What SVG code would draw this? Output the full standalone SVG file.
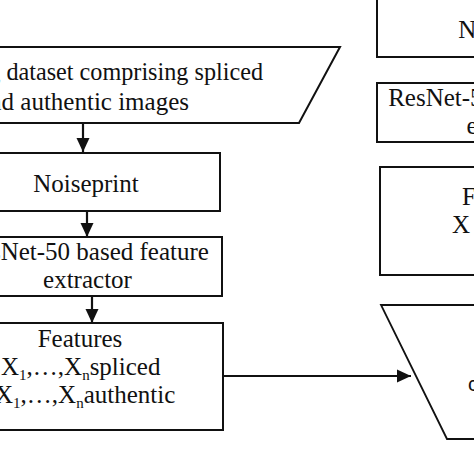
<svg xmlns="http://www.w3.org/2000/svg" width="474" height="474" viewBox="0 0 474 474">
<style>
.box{fill:#fff;stroke:#111;stroke-width:2}
.t{font-family:"Liberation Serif","Times New Roman",serif;font-size:25px;fill:#111}
.m{text-anchor:middle}
.sub{font-size:15px}
.con{stroke:#111;stroke-width:2.2;fill:none}
</style>
<defs>
<marker id="ah" markerUnits="userSpaceOnUse" markerWidth="14" markerHeight="14" refX="14" refY="7" orient="auto">
<path d="M0,0.5 L14,7 L0,13.5 Z" fill="#111"/>
</marker>
</defs>
<rect width="474" height="474" fill="#fff"/>
<g id="connectors">
<line class="con" x1="83" y1="123" x2="83" y2="152" marker-end="url(#ah)"/>
<line class="con" x1="87" y1="211" x2="87" y2="237" marker-end="url(#ah)"/>
<line class="con" x1="92" y1="296" x2="92" y2="323" marker-end="url(#ah)"/>
<line class="con" x1="223" y1="376" x2="411" y2="376" marker-end="url(#ah)"/>
</g>
<g id="dataset">
<polygon class="box" points="-100,47 340,47 299,123 -141,123"/>
<text class="t" x="263" y="80" text-anchor="end" style="font-size:24.2px">Training dataset comprising spliced</text>
<text class="t" x="189" y="110" text-anchor="end">and authentic images</text>
</g>
<g id="noiseprint">
<rect class="box" x="-48" y="153" width="268" height="58"/>
<text class="t m" x="86" y="192">Noiseprint</text>
</g>
<g id="extractor">
<rect class="box" x="-48" y="237" width="270" height="59"/>
<text class="t m" x="86" y="260">ResNet-50 based feature</text>
<text class="t m" x="87.5" y="288">extractor</text>
</g>
<g id="features">
<rect class="box" x="-48" y="323" width="271" height="107"/>
<text class="t m" x="80" y="347">Features</text>
<text class="t" x="1" y="375">X<tspan class="sub" dy="5">1</tspan><tspan dy="-5">,…,X</tspan><tspan class="sub" dy="5">n</tspan><tspan dy="-5">spliced</tspan></text>
<text class="t" x="-5" y="403">X<tspan class="sub" dy="5">1</tspan><tspan dy="-5">,…,X</tspan><tspan class="sub" dy="5">n</tspan><tspan dy="-5">authentic</tspan></text>
</g>
<g id="test-noiseprint">
<rect class="box" x="377" y="-1" width="300" height="58"/>
<text class="t m" x="511" y="38">Noiseprint</text>
</g>
<g id="test-extractor">
<rect class="box" x="377" y="83" width="300" height="59"/>
<text class="t m" x="511" y="106">ResNet-50 based feature</text>
<text class="t m" x="511" y="134">extractor</text>
</g>
<g id="test-features">
<rect class="box" x="380" y="167" width="300" height="108"/>
<text class="t" x="462" y="205">Features</text>
<text class="t" x="452" y="233">X</text>
</g>
<g id="classifier">
<polygon class="box" points="381,305 600,305 600,439 447,439" style="stroke-width:1.8"/>
<text x="468" y="391" style="font-family:'Liberation Sans',Arial,sans-serif;font-size:20px;fill:#111">c</text>
</g>
</svg>
